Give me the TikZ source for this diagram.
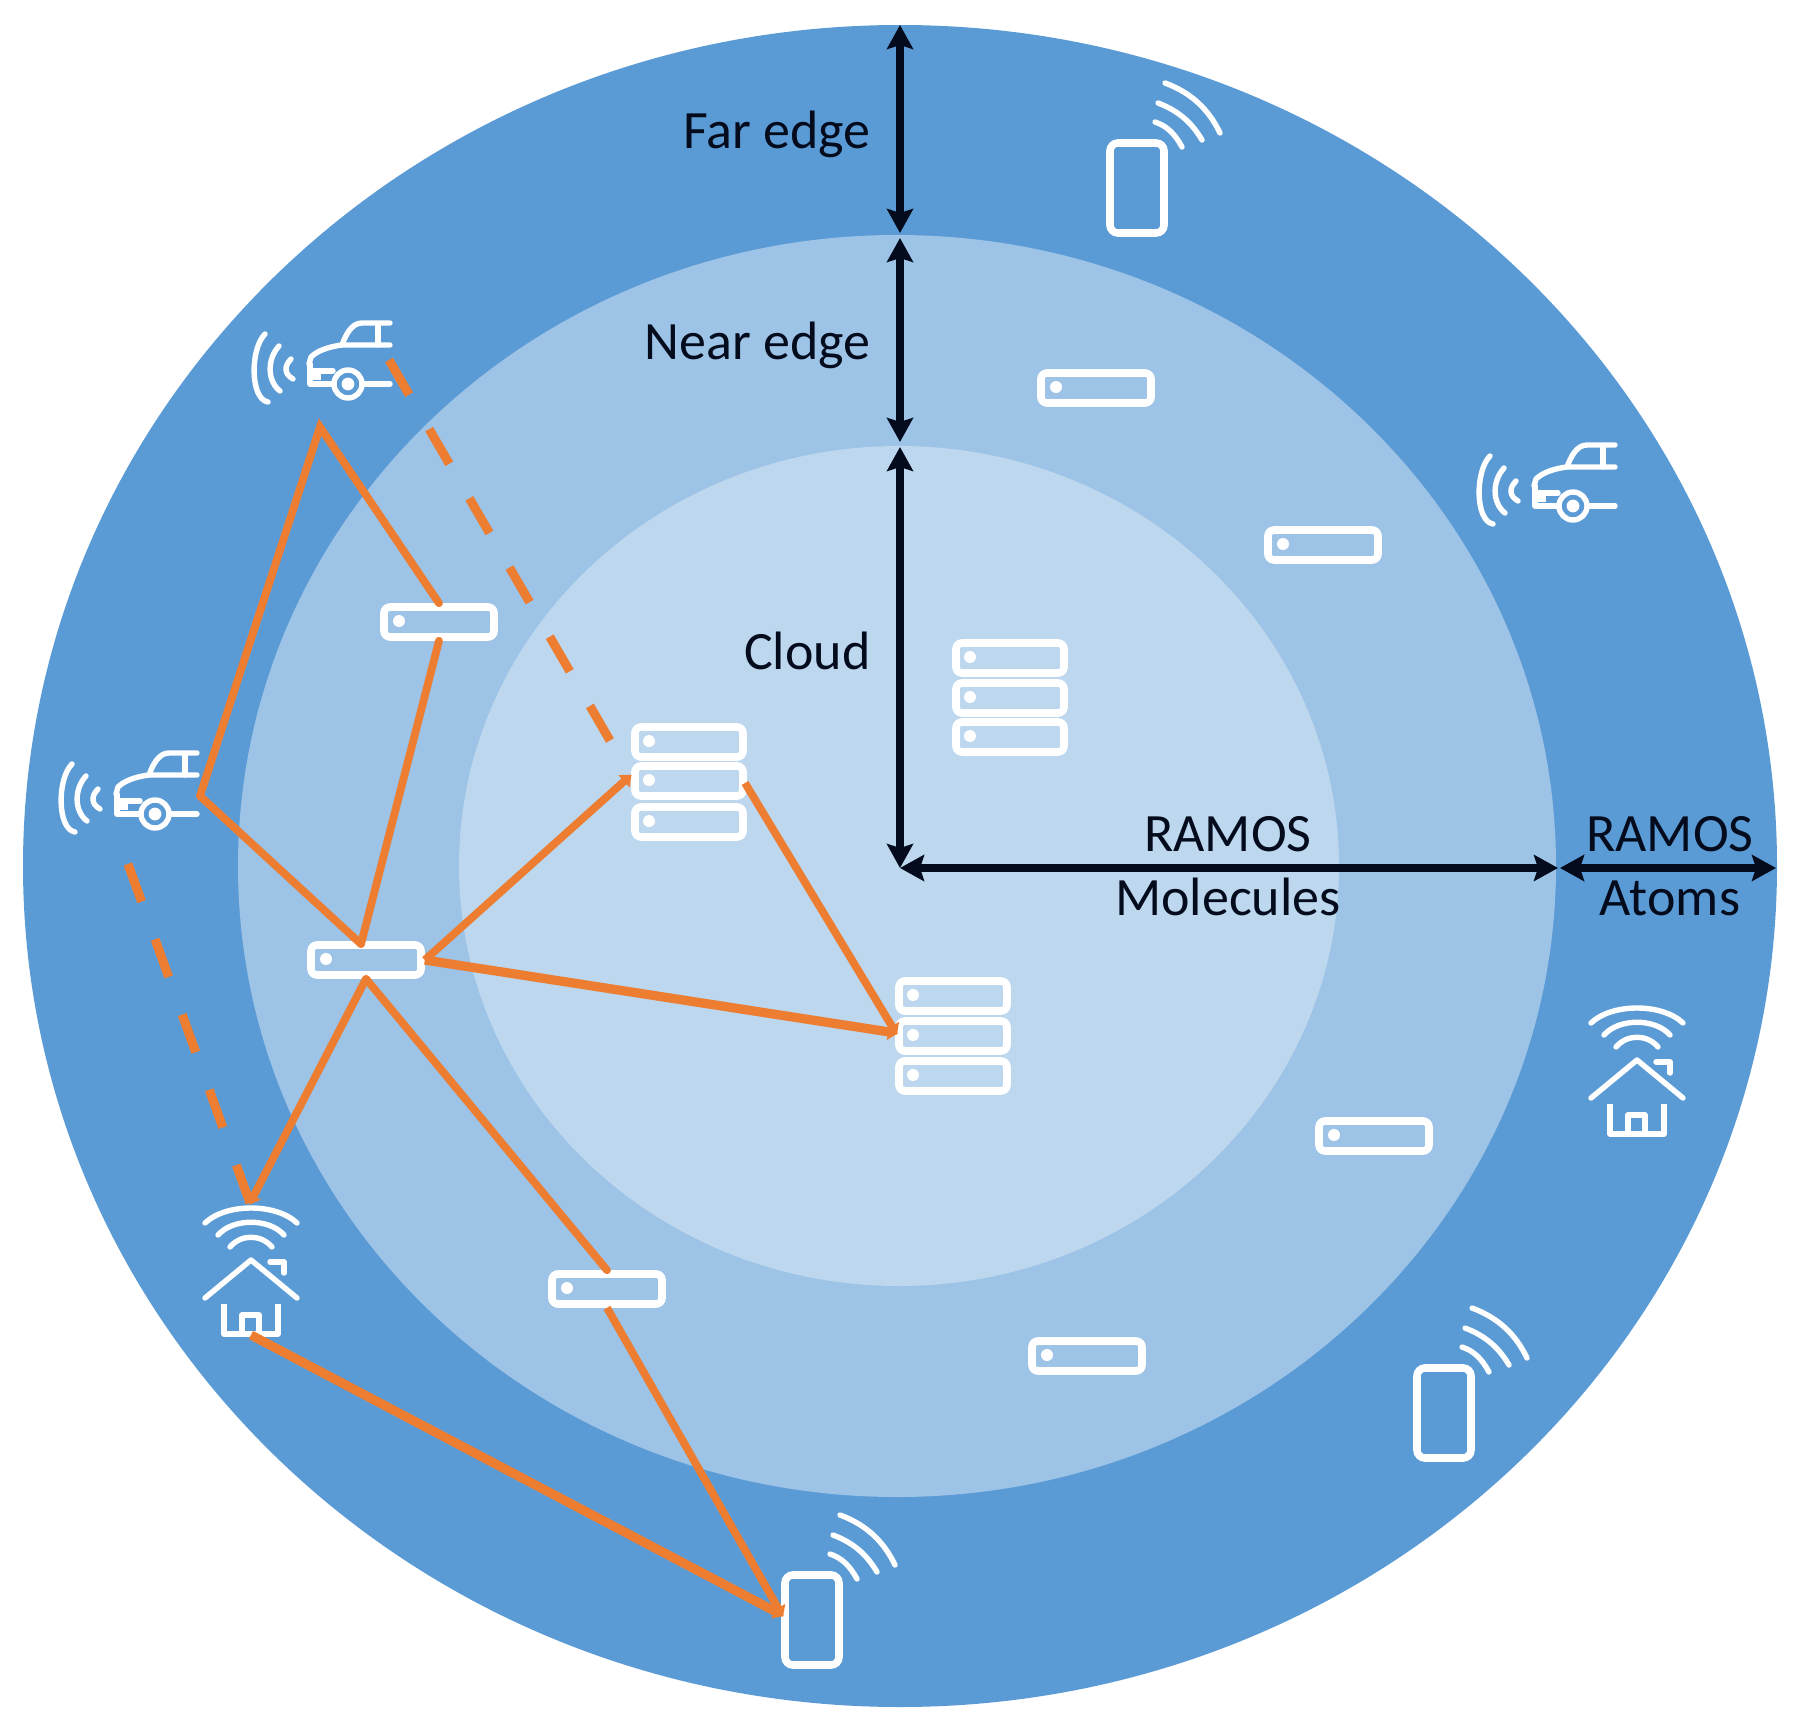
\documentclass[tikz,border=0pt]{standalone}
\usepackage{fontspec}
\setmainfont{Carlito}
\usetikzlibrary{arrows.meta}
\definecolor{ringfar}{HTML}{5B9BD5}
\definecolor{ringnear}{HTML}{9DC3E6}
\definecolor{ringcloud}{HTML}{BDD7EE}
\definecolor{linkor}{HTML}{ED7D31}
\definecolor{ink}{HTML}{030B1C}
\tikzset{
  srv/.style={draw=white,line width=3.8pt,rounded corners=3pt,inner sep=0pt,minimum width=55pt,minimum height=15pt},
  srvrow/.style={srv,minimum width=54pt,minimum height=15pt},
  handset/.style={draw=white,line width=3.8pt,rounded corners=4pt,inner sep=0pt,minimum width=27pt,minimum height=45pt},
  icon/.style={draw=white,line width=2.7pt,line cap=round,line join=round},
  link/.style={draw=linkor,line width=3.9pt,-{Triangle[length=5pt,width=8pt]},shorten >=-1pt},
  linkb/.style={draw=linkor,line width=3.9pt,line cap=round},
  dlink/.style={draw=linkor,line width=4.5pt,dash pattern=on 20pt off 20pt},
  measure/.style={draw=ink,line width=3.8pt,{Stealth[length=12pt,width=13pt,inset=2pt]}-{Stealth[length=12pt,width=13pt,inset=2pt]}},
  lbl/.style={text=ink,inner sep=0pt,font=\fontsize{27}{32}\selectfont,align=center},
  carico/.pic={
    \draw[icon] (-83,-50) .. controls (-98,-35) and (-98,15) .. (-80,18);
    \draw[icon] (-69,-38) .. controls (-81,-25) and (-81,-3) .. (-68,7);
    \draw[icon] (-57,-25) .. controls (-64,-18) and (-64,-10) .. (-55,-5);
    \draw[icon] (42,-39) -- (-6,-39) .. controls (-22,-37) and (-32,-32) .. (-37,-27) -- (-39,-20);
    \draw[icon] (-6,-39) .. controls (-2,-50) and (4,-61) .. (14,-61) -- (42,-61);
    \draw[icon] (30,-59) -- (30,-39);
    \draw[icon] (-15,0) -- (-38,0) -- (-38,-20);
    \draw[icon] (-38,-13) -- (-15,-13);
    \fill[white] (-36,-14) rectangle (-27,-4);
    \draw[icon] (17,0) -- (42,0);
    \draw[icon] (0,0) circle (14);
    \fill[white] (0,0) circle (3.2pt);
  },
  houseico/.pic={
    \draw[icon] (-46,-37) .. controls (-25,-57) and (25,-57) .. (46,-37);
    \draw[icon] (-33,-25) .. controls (-18,-42) and (18,-42) .. (33,-25);
    \draw[icon] (-21,-13) .. controls (-10,-26) and (10,-26) .. (21,-13);
    \draw[icon] (-46,38) -- (0,0) -- (46,38);
    \draw[icon] (19,2) -- (33,2) -- (33,13);
    \draw[icon,line cap=butt] (-27,44) -- (-27,74) -- (27,74) -- (27,44);
    \draw[icon,line cap=butt] (-9,74) -- (-9,55) -- (8,55) -- (8,74);
  },
  phonewaves/.pic={
    \draw[icon] (28,-105) .. controls (55,-95) and (72,-78) .. (83,-55);
    \draw[icon] (21,-85) .. controls (42,-77) and (55,-65) .. (65,-48);
    \draw[icon] (18,-66) .. controls (30,-62) and (38,-54) .. (45,-41);
  }
}
\newcommand{\srvone}[3]{\node[srv] (#1) at (#2,#3) {};\fill[white] (#1.center) ++(-40,-1) circle (3pt);}
\newcommand{\srvtriple}[5]{%
  \node[srvrow] (#1a) at (#2,#3) {};\fill[white] (#1a.center) ++(-40,-1) circle (3pt);
  \node[srvrow] (#1b) at (#2,#4) {};\fill[white] (#1b.center) ++(-40,-1) circle (3pt);
  \node[srvrow] (#1c) at (#2,#5) {};\fill[white] (#1c.center) ++(-40,-1) circle (3pt);}
\begin{document}
\begin{tikzpicture}[x=0.5pt,y=-0.5pt]
\useasboundingbox (0,0) rectangle (1794,1728);
\fill[ringfar] (900,866) ellipse [x radius=877,y radius=841];
\fill[ringnear] (897,866) ellipse [x radius=659,y radius=631];
\fill[ringcloud] (899,866) ellipse [x radius=440,y radius=420];
% measures
\coordinate (c0) at (900,868);
\coordinate (topA) at (900,25);
\coordinate (topB) at (900,233);
\coordinate (topC) at (900,238);
\coordinate (topD) at (900,442);
\coordinate (topE) at (900,447);
\coordinate (midA) at (1560,868);
\coordinate (midB) at (1558,868);
\coordinate (midC) at (1776,868);
\draw[measure] (topA) -- (topB);
\draw[measure] (topC) -- (topD);
\draw[measure] (topE) -- (c0);
\draw[measure] (c0) -- (midB);
\draw[measure] (midA) -- (midC);
% labels
\node[lbl,anchor=east] (lfar) at (871,134) {Far edge};
\node[lbl,anchor=east] (lnear) at (871,345) {Near edge};
\node[lbl,anchor=east] (lcloud) at (871,651) {Cloud};
\node[lbl] (lmol) at (1228,866) {RAMOS\\Molecules};
\node[lbl] (latom) at (1670,866) {RAMOS\\Atoms};
% servers
\srvone{s1}{1096}{388}
\srvone{s2}{1323}{545}
\srvone{s3}{439}{622}
\srvone{s4}{366}{960}
\srvone{s5}{607}{1289}
\srvone{s6}{1087}{1356}
\srvone{s7}{1374}{1136}
\srvtriple{ta}{1010}{658}{698}{737}
\srvtriple{tb}{689}{742}{781}{822}
\srvtriple{tc}{953}{996}{1036}{1076}
% handsets
\node[handset] (p1) at (1137,188) {};
\pic at (p1.center) {phonewaves};
\node[handset] (p2) at (812,1620) {};
\pic at (p2.center) {phonewaves};
\node[handset] (p3) at (1444,1413) {};
\pic at (p3.center) {phonewaves};
% cars
\pic at (348,384) {carico};
\pic at (155,814) {carico};
\pic at (1573,506) {carico};
% houses
\pic at (251,1260) {houseico};
\pic at (1637,1060) {houseico};
% link points
\coordinate (carAdash) at (389,360);
\coordinate (carBdash) at (128,864);
\coordinate (carBj) at (200,796);
\coordinate (apex) at (320,427);
\coordinate (houseTop) at (250,1203);
\coordinate (houseBot) at (251,1335);
\coordinate (phoneL) at (782,1615);
\coordinate (tbDash) at (612,744);
\coordinate (tbL) at (630,776);
\coordinate (tbR) at (745,783);
\coordinate (tcL) at (896,1033);
\coordinate (sJoin) at (361,944);
% links
\draw[linkb,line join=miter] (carBj) -- (apex) -- (s3.north);
\draw[linkb] (s3.south) -- (sJoin);
\draw[linkb] (carBj) -- (sJoin);
\draw[link] (s4.south) -- (houseTop);
\draw[linkb] (s4.south) -- (s5.north);
\draw[link] (s5.south) -- (phoneL);
\draw[link,line width=4.6pt] (houseBot) -- (phoneL);
\draw[link] (s4.east) -- (tbL);
\draw[link,line width=4.6pt] (s4.east) -- (tcL);
\draw[link] (tbR) -- (tcL);
\draw[dlink] (carAdash) -- (tbDash);
\draw[dlink] (carBdash) -- (houseTop);
\end{tikzpicture}
\end{document}
